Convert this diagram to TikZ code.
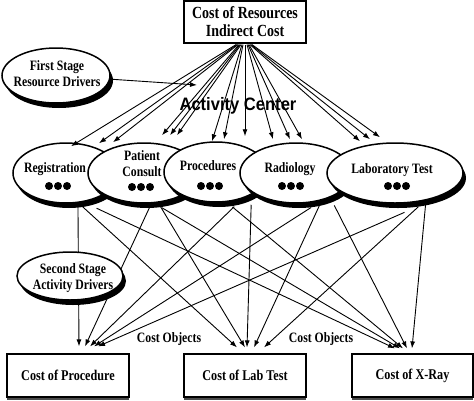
\documentclass[tikz,border=0pt]{standalone}
\usepackage{fontspec}
\newfontfamily\tb{Liberation Serif}[FakeStretch=0.82]
\newfontfamily\sbf{Liberation Sans}[FakeStretch=0.92]
\usetikzlibrary{shapes.geometric,shadows,arrows.meta,calc,backgrounds}
\begin{document}
\begin{tikzpicture}[x=1pt,y=-1pt,
  ell/.style={ellipse, draw, line width=1.5pt, fill=white, inner sep=0pt,
    general shadow={fill=black, shadow xshift=3pt, shadow yshift=-5pt}},
  box/.style={rectangle, draw, line width=1.2pt, fill=white, inner sep=0pt, align=center,
    font=\tb\bfseries\fontsize{14.85}{16}\selectfont},
  lowbox/.style={box, general shadow={fill=black!70, shadow yshift=-2.5pt}},
  txt/.style={font=\tb\bfseries\fontsize{14.3}{16}\selectfont, align=center, inner sep=0pt},
  tip/.style={-{Latex[length=7pt,width=5pt]}},
  arr/.style={line width=0.9pt, tip},
  ln/.style={line width=0.9pt, tip, shorten <=-6pt},
  dot/.style={fill=black},
]
\useasboundingbox (0,0) rectangle (474,400);

% top box
\node[box, minimum width=122, minimum height=42,
  font=\tb\bfseries\fontsize{17}{18}\selectfont] (top) at (245,22) {Cost of Resources\\Indirect Cost};

% first stage drivers
\node[ell, minimum width=108, minimum height=55] (fs) at (56,75.5) {};
\node[txt] (fst) at (57,74) {First Stage\\Resource Drivers};
\coordinate (fsend) at (197,85);
\draw[arr] (fs) -- (fsend);

% activity center label
\node[font=\sbf\bfseries\fontsize{18}{20}\selectfont, inner sep=0pt] (ac) at (238,106) {Activity Center};

% activity ellipses
\node[ell, minimum width=106, minimum height=60] (reg) at (66,173) {};
\node[txt] (regt) at (55,169) {Registration};
\coordinate (regd) at (58,186);
\node[ell, minimum width=112, minimum height=60] (pc) at (144,173) {};
\node[txt] (pct) at (142,164) {Patient\\Consult};
\coordinate (pcd) at (141,187);
\node[ell, minimum width=104, minimum height=60] (proc) at (216,172) {};
\node[txt] (proct) at (208,166) {Procedures};
\coordinate (procd) at (210,186);
\node[ell, minimum width=112, minimum height=60] (rad) at (296,173) {};
\node[txt] (radt) at (290,169) {Radiology};
\coordinate (radd) at (291,186);
\node[ell, minimum width=136, minimum height=60] (lab) at (395,173) {};
\node[txt] (labt) at (392,170) {Laboratory Test};
\coordinate (labd) at (397,186);
\foreach \c in {regd,pcd,procd,radd,labd}
  \foreach \d in {-9,0,9}
    \fill[dot] ($(\c)+(\d,0)$) circle (4pt);

% second stage drivers
\node[ell, minimum width=106, minimum height=48] (ss) at (70,276) {};
\node[txt] (sst) at (73,278) {Second Stage\\Activity Drivers};

% cost objects
\node[lowbox, minimum width=122, minimum height=43] (cp) at (68,375.5) {Cost of Procedure};
\node[lowbox, minimum width=122, minimum height=43] (cl) at (245,375.5) {Cost of Lab Test};
\node[lowbox, minimum width=121, minimum height=43] (cx) at (412.5,375.5) {Cost of X-Ray};
\node[txt] (co1) at (169,339) {Cost Objects};
\node[txt] (co2) at (321,339) {Cost Objects};

% first stage arrows
\draw[arr] ($(top.south)+(-9,1)$) -- ($(reg.north)+(5,4)$);
\draw[arr] ($(top.south)+(-8,1)$) -- ($(reg.north)+(33,1)$);
\draw[arr] ($(top.south)+(-7,1)$) -- ($(reg.north)+(47,0)$);
\draw[arr] ($(top.south)+(-6,1)$) -- ($(pc.north)+(18,-7)$);
\draw[arr] ($(top.south)+(-5,1)$) -- ($(pc.north)+(26,-7)$);
\draw[arr] ($(top.south)+(-4,1)$) -- ($(pc.north)+(33,-7)$);
\draw[arr] ($(top.south)+(-3,1)$) -- ($(proc.north)+(-4,0)$);
\draw[arr] ($(top.south)+(-2,1)$) -- ($(proc.north)+(8,-2)$);
\draw[arr] ($(top.south)+(0,1)$) -- ($(proc.north)+(29,-5)$);
\draw[arr] ($(top.south)+(2,1)$) -- ($(rad.north)+(-23,-3)$);
\draw[arr] ($(top.south)+(3,1)$) -- ($(rad.north)+(-6,-3)$);
\draw[arr] ($(top.south)+(4,1)$) -- ($(rad.north)+(6,-3)$);
\draw[arr] ($(top.south)+(5,1)$) -- ($(lab.north)+(-35,-1)$);
\draw[arr] ($(top.south)+(6,1)$) -- ($(lab.north)+(-25,-3)$);
\draw[arr] ($(top.south)+(7,1)$) -- ($(lab.north)+(-15,-5)$);

% second stage connectors
\begin{pgfonlayer}{background}
\draw[ln] ($(reg.south)+(12,7)$) -- ($(cp.north)+(11,-7)$);
\draw[ln] ($(reg.south)+(21,7)$) -- ($(cl.north)+(-8,-6)$);
\draw[ln] ($(reg.south)+(36,7)$) -- ($(cx.north)+(-17.5,-5)$);
\draw[ln] ($(pc.south)+(4,7)$) -- ($(cp.north)+(17,-7)$);
\draw[ln] ($(pc.south)+(19,7)$) -- ($(cl.north)+(0,-6)$);
\draw[ln] ($(pc.south)+(23,7)$) -- ($(cx.north)+(-12.5,-5)$);
\draw[ln] ($(proc.south)+(14,8)$) -- ($(cp.north)+(22,-7)$);
\draw[ln] ($(proc.south)+(35,8)$) -- ($(cl.north)+(2,-6)$);
\draw[ln] ($(proc.south)+(21,8)$) -- ($(cx.north)+(-9.5,-5)$);
\draw[ln] ($(rad.south)+(10,7)$) -- ($(cp.north)+(26,-7)$);
\draw[ln] ($(rad.south)+(21,7)$) -- ($(cl.north)+(9,-6)$);
\draw[ln] ($(rad.south)+(41,7)$) -- ($(cx.north)+(-5.5,-5)$);
\draw[ln] ($(lab.south)+(4,11)$) -- ($(cp.north)+(30,-7)$);
\draw[ln] ($(lab.south)+(19,7)$) -- ($(cl.north)+(19,-6)$);
\draw[ln] ($(lab.south)+(30,7)$) -- ($(cx.north)+(-0.5,-5)$);
\end{pgfonlayer}
\end{tikzpicture}
\end{document}
